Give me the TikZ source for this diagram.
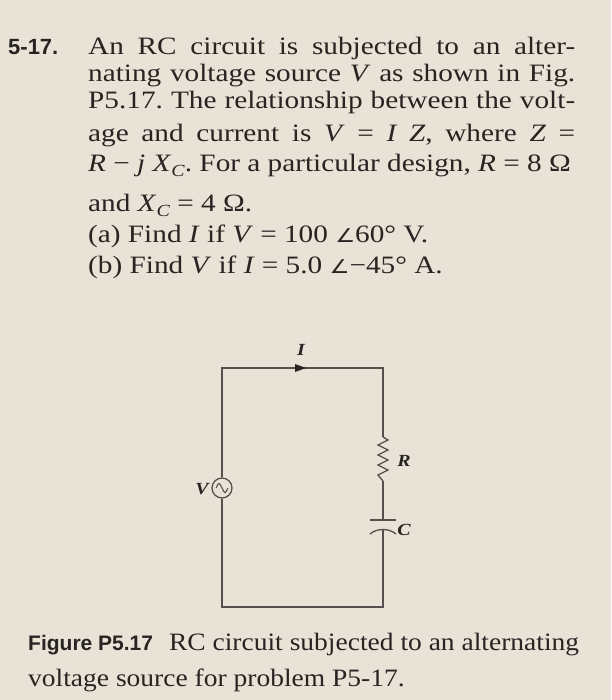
\documentclass[tikz,border=0pt]{standalone}
\usepackage{fontspec}
\setmainfont[FakeStretch=1.17]{Liberation Serif}
\newfontfamily\capfont[FakeStretch=1.1]{Liberation Serif}
\newfontfamily\hsans{Liberation Sans}
\newfontfamily\djv[FakeStretch=1.17]{DejaVu Sans}
\usetikzlibrary{calc}
\definecolor{bg}{RGB}{232,226,215}
\definecolor{ink}{RGB}{40,36,34}
\definecolor{wire}{RGB}{85,80,78}
\newcommand{\ang}{{\djv\fontsize{19}{19}\selectfont ∠}}
\newcommand{\sbc}{\raisebox{-5pt}{\fontsize{17}{17}\selectfont\textit{C}}}
\frenchspacing
\begin{document}
\begin{tikzpicture}[x=1pt,y=-1pt,
  txt/.style={anchor=base west,inner sep=0,text=ink,font=\fontsize{25}{25}\selectfont},
  lab/.style={anchor=center,inner sep=0,text=ink,font=\bfseries\itshape\fontsize{17}{17}\selectfont},
  wr/.style={draw=wire,line width=1.3pt}]
\fill[bg] (0,0) rectangle (611,700);
\node[txt,font=\hsans\bfseries\fontsize{22}{22}\selectfont] (num) at (8,55) {5-17.};
\node[txt] (l1) at (88,55) {\makebox[487pt][s]{An RC circuit is subjected to an alter-}};
\node[txt] (l2) at (88,82) {\makebox[487pt][s]{nating voltage source \textit{V} as shown in Fig.}};
\node[txt] (l3) at (88,109) {\makebox[487pt][s]{P5.17. The relationship between the volt-}};
\node[txt] (l4) at (88,142) {\makebox[487pt][s]{age and current is \textit{V} = \textit{I Z}, where \textit{Z} =}};
\node[txt] (l5) at (88,172) {\textit{R} − \textit{j X}\sbc. For a particular design, \textit{R} = 8 Ω};
\node[txt] (l6) at (88,212) {and \textit{X}\sbc{} = 4 Ω.};
\node[txt] (la) at (88,243) {(a) Find \textit{I} if \textit{V} = 100 \ang60° V.};
\node[txt] (lb) at (88,273) {(b) Find \textit{V} if \textit{I} = 5.0 \ang−45° A.};
% circuit
\coordinate (tl) at (222,368); \coordinate (tr) at (383,368);
\coordinate (bl) at (222,607); \coordinate (br) at (383,607);
\node[circle,draw=wire,line width=1.3pt,minimum size=20pt,inner sep=0] (src) at (222,488) {};
\draw[wire,line width=1.1pt] ($(src)+(-6,0)$) .. controls ($(src)+(-3,-6)$) .. (src.center) .. controls ($(src)+(3,6)$) .. ($(src)+(6,0)$);
\node[lab] (vl) at (202,489) {V};
\coordinate (r1) at (383,437); \coordinate (r2) at (383,481);
\coordinate (c1) at (383,520); \coordinate (c2) at (383,529);
\draw[wr] (src.north) -- (tl) -- (tr) -- (r1);
\draw[wr] (r1) -- ++(5,3) -- ++(-10,5) -- ++(10,5) -- ++(-10,5) -- ++(10,5) -- ++(-10,5) -- ++(10,5) -- ++(-10,5) -- (r2);
\draw[wr] (r2) -- (c1);
\draw[wr] ($(c1)+(-13,0)$) -- ($(c1)+(13,0)$);
\draw[wr] ($(c2)+(-13,5)$) .. controls ($(c2)+(-6,-1)$) and ($(c2)+(6,-1)$) .. ($(c2)+(13,5)$);
\draw[wr] (c2) -- (br) -- (bl) -- (src.south);
\fill[ink] (306,368) -- (295,364) -- (295,372) -- cycle;
\node[lab] (il) at (301,350) {I};
\node[lab] (rl) at (404,461) {R};
\node[lab] (cl) at (404,530) {C};
% caption
\node[txt] (cap1) at (28,650) {{\hsans\bfseries\fontsize{21}{21}\selectfont Figure P5.17}\hspace{16pt}{\capfont\fontsize{25}{25}\selectfont RC circuit subjected to an alternating}};
\node[txt,font=\capfont\fontsize{25}{25}\selectfont] (cap2) at (28,686) {voltage source for problem P5-17.};
\end{tikzpicture}
\end{document}
